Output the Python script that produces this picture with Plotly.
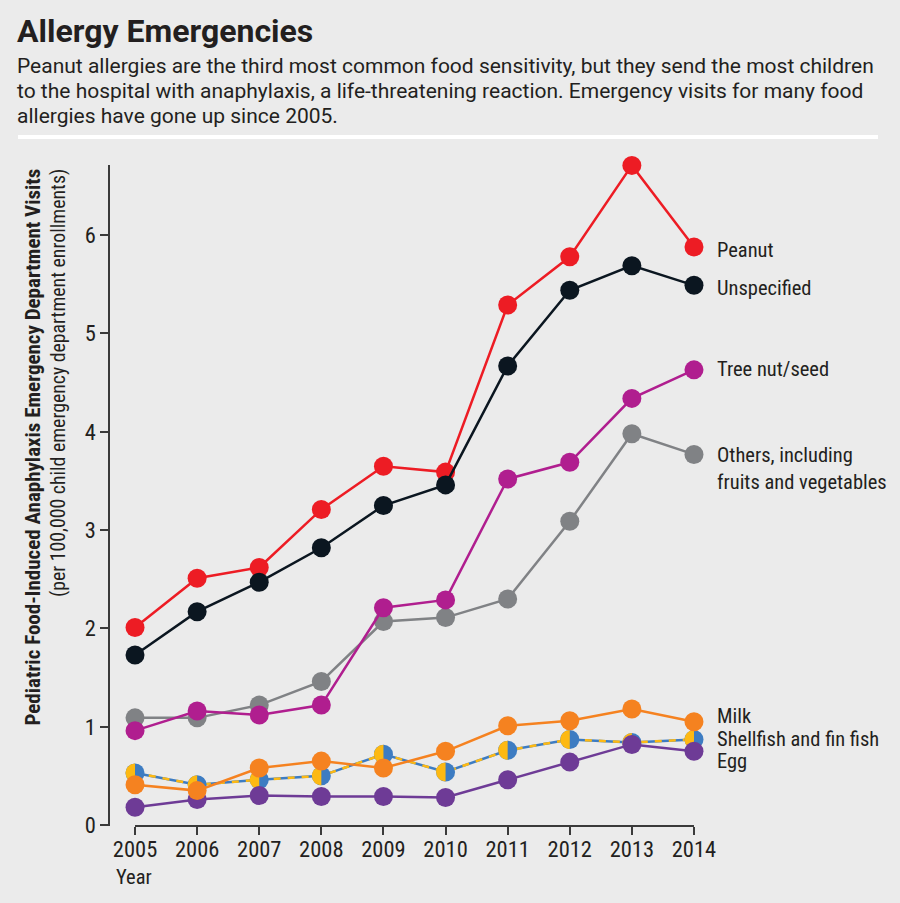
import plotly.graph_objects as go
import numpy as np

years = [2005, 2006, 2007, 2008, 2009, 2010, 2011, 2012, 2013, 2014]
peanut = [2.01, 2.51, 2.62, 3.21, 3.65, 3.59, 5.29, 5.78, 6.71, 5.88]
unspecified = [1.73, 2.17, 2.47, 2.82, 3.25, 3.46, 4.67, 5.44, 5.69, 5.49]
tree_nut = [0.96, 1.16, 1.12, 1.22, 2.21, 2.29, 3.52, 3.69, 4.34, 4.63]
others = [1.09, 1.09, 1.22, 1.46, 2.07, 2.11, 2.30, 3.09, 3.98, 3.77]
milk = [0.41, 0.35, 0.58, 0.65, 0.58, 0.75, 1.01, 1.06, 1.18, 1.05]
shellfish = [0.53, 0.41, 0.46, 0.50, 0.72, 0.54, 0.76, 0.87, 0.84, 0.87]
egg = [0.18, 0.26, 0.30, 0.29, 0.29, 0.28, 0.46, 0.64, 0.82, 0.75]
y_ticks = [0, 1, 2, 3, 4, 5, 6]

BG = "#ebebeb"
TXT = "#231f20"
RED = "#ed1c24"
NAVY = "#0b1620"
MAGENTA = "#b01e8f"
GRAY = "#808285"
ORANGE = "#f58220"
YELLOW = "#fdb913"
BLUE = "#3d7cc2"
PURPLE = "#6e3b96"

W, H = 900, 903
ML, MR, MT, MB = 110, 180, 165, 77
PW, PH = W - ML - MR, H - MT - MB
XR = [2004.597, 2014.419]
YR = [-0.01, 6.714]
ppx = PW / (XR[1] - XR[0])
ppy = PH / (YR[1] - YR[0])

MS = 19
LW = 2.5
SANS = "Roboto, Arial, sans-serif"
NARROW = "Liberation Sans Narrow, Arial Narrow, Roboto Condensed, sans-serif"


def px2paper(x, y):
    return (x - ML) / PW, (H - MB - y) / PH


fig = go.Figure()


def series(vals, color):
    fig.add_trace(go.Scatter(
        x=years, y=vals, mode="lines+markers",
        line=dict(color=color, width=LW),
        marker=dict(color=color, size=MS, line=dict(width=0)),
        cliponaxis=False, hoverinfo="skip", showlegend=False))


series(others, GRAY)
series(tree_nut, MAGENTA)
series(peanut, RED)
series(unspecified, NAVY)

# shellfish: blue/yellow dashed line and half-split markers
fig.add_trace(go.Scatter(x=years, y=shellfish, mode="lines",
                         line=dict(color=BLUE, width=LW), cliponaxis=False,
                         hoverinfo="skip", showlegend=False))
fig.add_trace(go.Scatter(x=years, y=shellfish, mode="lines",
                         line=dict(color=YELLOW, width=LW, dash="7px,7px"), cliponaxis=False,
                         hoverinfo="skip", showlegend=False))
fig.add_trace(go.Scatter(x=years, y=shellfish, mode="markers",
                         marker=dict(color=BLUE, size=MS, line=dict(width=0)), cliponaxis=False,
                         hoverinfo="skip", showlegend=False))
r = MS / 2
ang = np.linspace(np.pi / 2, 3 * np.pi / 2, 25)
hx, hy = [], []
for xv, yv in zip(years, shellfish):
    hx += list(xv + r * np.cos(ang) / ppx) + [None]
    hy += list(yv + r * np.sin(ang) / ppy) + [None]
fig.add_trace(go.Scatter(x=hx, y=hy, mode="lines", fill="toself", fillcolor=YELLOW,
                         line=dict(width=0, color=YELLOW), cliponaxis=False,
                         hoverinfo="skip", showlegend=False))

series(egg, PURPLE)
series(milk, ORANGE)

# x axis baseline from first to last year
fig.add_shape(type="line", xref="x", yref="paper", x0=years[0], x1=years[-1], y0=0, y1=0,
              line=dict(color="#3a3a3a", width=2))
# white rule under header
rx0, ry = px2paper(18, 137)
rx1, _ = px2paper(878, 137)
fig.add_shape(type="line", xref="paper", yref="paper", x0=rx0, x1=rx1, y0=ry, y1=ry,
              line=dict(color="white", width=4))


def ann(text, x, y, size, font=SANS, xanchor="left", yanchor="middle", angle=0, color=TXT, **kw):
    px_, py_ = px2paper(x, y)
    fig.add_annotation(text=text, xref="paper", yref="paper", x=px_, y=py_,
                       xanchor=xanchor, yanchor=yanchor, showarrow=False, textangle=angle,
                       font=dict(family=font, size=size, color=color), align="left", **kw)


ann("<b>Allergy Emergencies</b>", 15, 31, 32)
sub_lines = ["Peanut allergies are the third most common food sensitivity, but they send the most children",
             "to the hospital with anaphylaxis, a life-threatening reaction. Emergency visits for many food",
             "allergies have gone up since 2005."]
for i, line in enumerate(sub_lines):
    ann(line, 15, 66 + 25 * i, 21)

ann("<b>Pediatric Food-Induced Anaphylaxis Emergency Department Visits</b>", 32, 167, 21,
    font=NARROW, xanchor="center", yanchor="top", angle=-90)
ann("(per 100,000 child emergency department enrollments)", 58, 167, 19.8,
    font=NARROW, xanchor="center", yanchor="top", angle=-90)
ann("Year", 114, 877, 20.5, font=NARROW)

labels = [("Peanut", 250), ("Unspecified", 288), ("Tree nut/seed", 369),
          ("Others, including<br>fruits and vegetables", 468), ("Milk", 716),
          ("Shellfish and fin fish", 739), ("Egg", 761)]
for t, yy in labels:
    ann(t, 715, yy, 20.5, font=NARROW)

fig.update_layout(
    width=W, height=H, paper_bgcolor=BG, plot_bgcolor=BG,
    margin=dict(l=ML, r=MR, t=MT, b=MB, autoexpand=False),
    showlegend=False,
    xaxis=dict(range=XR, tickvals=years, ticktext=[str(y) for y in years],
               showgrid=False, zeroline=False, showline=False,
               ticks="outside", ticklen=8, tickwidth=2, tickcolor="#3a3a3a",
               ticklabelstandoff=-5,
               tickfont=dict(family=NARROW, size=22.5, color=TXT), fixedrange=True),
    yaxis=dict(range=YR, tickvals=y_ticks, showgrid=False, zeroline=False,
               showline=True, linecolor="#3a3a3a", linewidth=1.5,
               ticks="outside", ticklen=8, tickwidth=1.5, tickcolor="#3a3a3a",
               tickfont=dict(family=NARROW, size=22.5, color=TXT), fixedrange=True),
)

fig.write_html("out.html", config={"displayModeBar": False},
               post_script="document.body.style.margin='0';document.body.style.background='#ebebeb';")
